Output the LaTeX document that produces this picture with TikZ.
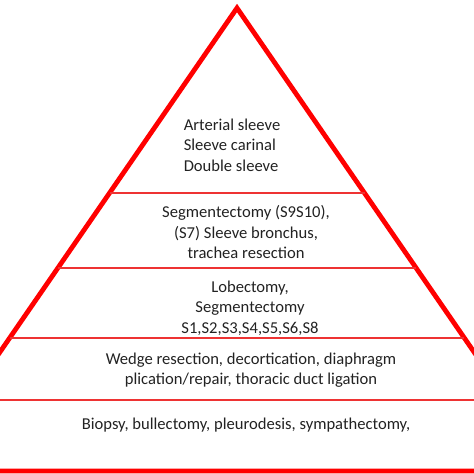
\documentclass[tikz,border=0pt]{standalone}
\usepackage{fontspec}
\setmainfont{Carlito}
\usetikzlibrary{calc}
\definecolor{txt}{HTML}{222222}
\definecolor{pyr}{HTML}{FF0000}
\definecolor{thin}{HTML}{EE3333}
\tikzset{
  outline/.style={draw=pyr, line width=4.8pt, line join=miter},
  divider/.style={draw=thin, line width=1.3pt},
  lbl/.style={text=txt, font=\fontsize{16.6}{20.5}\selectfont, align=center, inner sep=0pt},
}
\begin{document}
\begin{tikzpicture}[x=1pt,y=-1pt]
\useasboundingbox (0,0) rectangle (474,474);
\clip (0,0) rectangle (474,474);
\coordinate (apex) at (237,8);
\coordinate (bl) at (-82,471);
\coordinate (br) at (556,471);
\draw[outline] (bl) -- (apex) -- (br) -- cycle;
% dividers
\coordinate (d1l) at (109.5,193); \coordinate (d1r) at (364.5,193);
\coordinate (d2l) at (58,268);    \coordinate (d2r) at (416,268);
\coordinate (d3l) at (10,338);    \coordinate (d3r) at (464,338);
\coordinate (d4l) at (-20,400);   \coordinate (d4r) at (494,400);
\draw[divider] (d1l) -- (d1r);
\draw[divider] (d2l) -- (d2r);
\draw[divider] (d3l) -- (d3r);
\draw[divider] (d4l) -- (d4r);
% labels
\node[lbl, align=left] (t1) at (232,145) {Arterial sleeve\\Sleeve carinal\\Double sleeve};
\node[lbl] (t2) at (246,232) {Segmentectomy (S9S10),\\(S7) Sleeve bronchus,\\trachea resection};
\node[lbl] (t3) at (250,308) {Lobectomy,\\Segmentectomy\\S1,S2,S3,S4,S5,S6,S8};
\node[lbl] (t4) at (251,370) {Wedge resection, decortication, diaphragm\\plication/repair, thoracic duct ligation};
\node[lbl] (t5) at (246,425) {Biopsy, bullectomy, pleurodesis, sympathectomy,};
\end{tikzpicture}
\end{document}
